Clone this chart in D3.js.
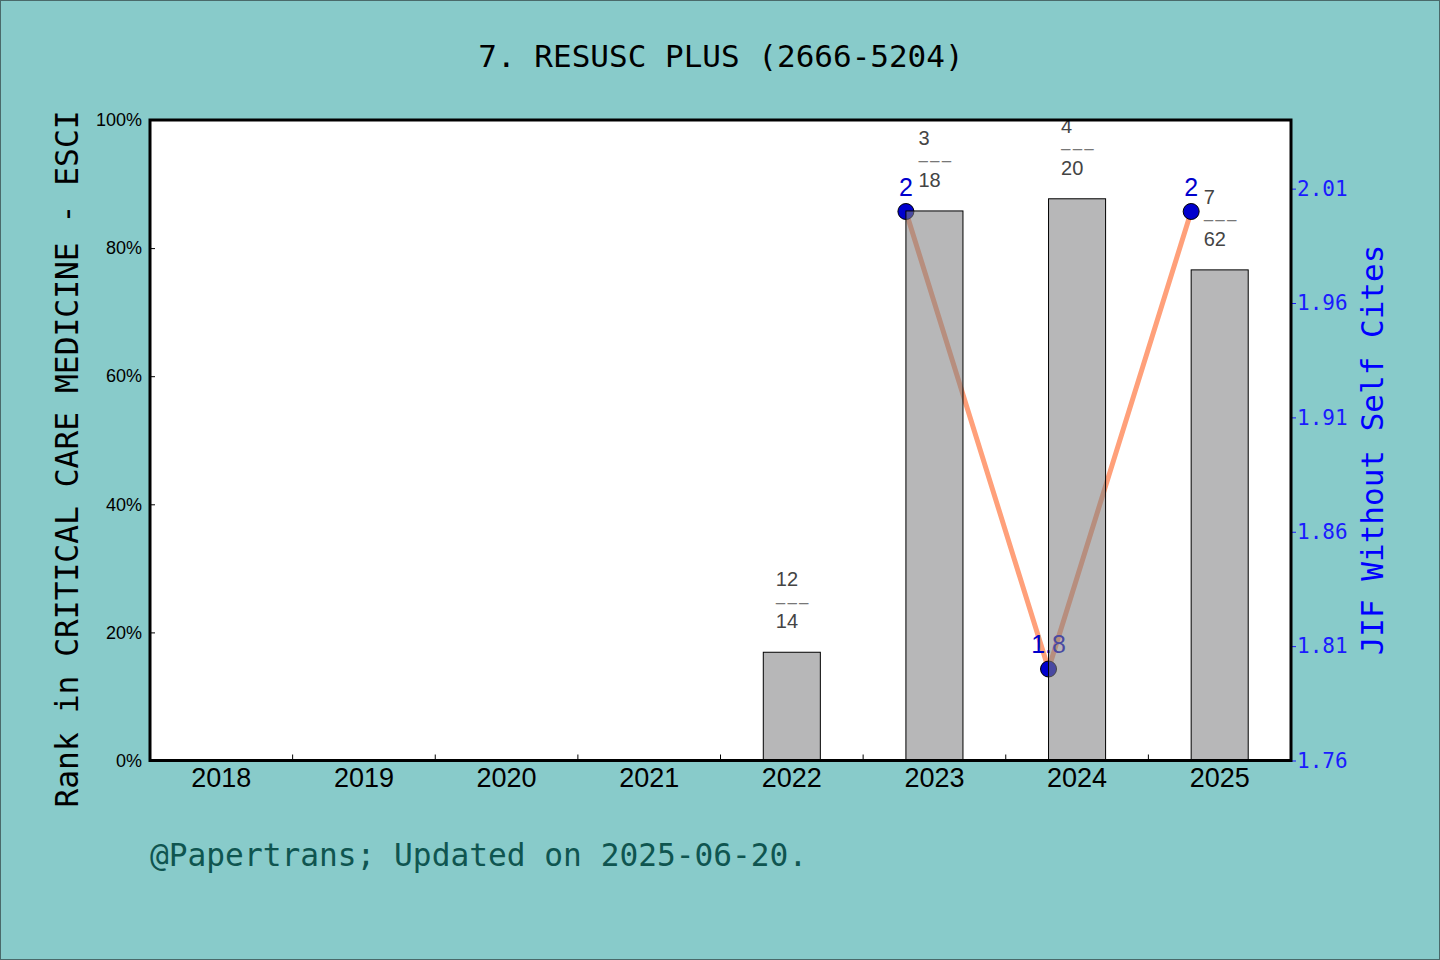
<!DOCTYPE html>
<html>
<head>
<meta charset="utf-8">
<script src="https://cdn.jsdelivr.net/npm/d3@7"></script>
<style>
  body { margin: 0; background: #88cbca; }
  svg { display: block; }
</style>
</head>
<body>
<div id="chart"></div>
<script>
// rank / JIF chart for one journal

const years = ["2018", "2019", "2020", "2021", "2022", "2023", "2024", "2025"];
const rankPct = [null, null, null, null, 16.9, 85.8, 87.7, 76.6];
const rankNum = [null, null, null, null, 12, 3, 4, 7];
const rankDen = [null, null, null, null, 14, 18, 20, 62];
const jifValues = [null, null, null, null, null, 2.0, 1.8, 2.0];
const jifLabels = [null, null, null, null, null, "2", "1.8", "2"];
const pctTicks = [0, 20, 40, 60, 80, 100];
const jifTicks = [1.76, 1.81, 1.86, 1.91, 1.96, 2.01];

const titleText = "7. RESUSC PLUS (2666-5204)";
const leftLabel = "Rank in CRITICAL CARE MEDICINE - ESCI";
const rightLabel = "JIF Without Self Cites";
const footerText = "@Papertrans; Updated on 2025-06-20.";

const W = 1440, H = 960;
const plot = { left: 150, right: 1291, top: 120, bottom: 760.5 };
const mono = "'DejaVu Sans Mono', monospace";
const sans = "'Liberation Sans', Arial, sans-serif";

let rows = years.map((y, i) => ({
    year: y,
    pct: rankPct[i],
    num: rankNum[i],
    den: rankDen[i],
    jif: jifValues[i],
    jifLabel: jifLabels[i]
}));

let svg = d3.select("#chart")
    .append("svg")
    .attr("width", W)
    .attr("height", H);

svg.append("rect")
    .attr("x", 0.5).attr("y", 0.5)
    .attr("width", W - 1).attr("height", H - 1)
    .attr("fill", "#88cbca")
    .attr("stroke", "#4a6a6a")
    .attr("stroke-width", 1);

svg.append("rect")
    .attr("x", plot.left).attr("y", plot.top)
    .attr("width", plot.right - plot.left)
    .attr("height", plot.bottom - plot.top)
    .attr("fill", "white");

let x = d3.scaleBand()
    .domain(years)
    .range([plot.left, plot.right])
    .padding(0);

let y = d3.scaleLinear()
    .domain([0, 100])
    .range([plot.bottom, plot.top]);

let y2 = d3.scaleLinear()
    .domain([1.76, 2.04])
    .range([plot.bottom, plot.top]);

let bw = x.bandwidth();

// left axis, ticks pointing in
let leftAxis = svg.append("g")
    .attr("transform", "translate(" + plot.left + ",0)")
    .call(d3.axisRight(y).tickValues(pctTicks).tickSize(5).tickFormat(d => d + "%"));
leftAxis.select(".domain").remove();
leftAxis.selectAll("line").attr("stroke", "black");
leftAxis.selectAll("text")
    .attr("x", -8)
    .attr("text-anchor", "end")
    .attr("font-family", sans)
    .attr("font-size", 18)
    .attr("fill", "black");

// right axis
let rightAxis = svg.append("g")
    .attr("transform", "translate(" + plot.right + ",0)")
    .call(d3.axisRight(y2).tickValues(jifTicks).tickSize(5).tickFormat(d3.format(".2f")));
rightAxis.select(".domain").remove();
rightAxis.selectAll("line").attr("stroke", "#1a1aff");
rightAxis.selectAll("text")
    .attr("x", 6)
    .attr("font-family", mono)
    .attr("font-size", 21)
    .attr("fill", "#1a1aff");

// bottom axis: ticks on band edges, labels at band centres
let bottom = svg.append("g");
bottom.selectAll(".edge")
    .data(years.slice(1))
    .join("line")
    .attr("x1", d => x(d)).attr("x2", d => x(d))
    .attr("y1", plot.bottom).attr("y2", plot.bottom - 6)
    .attr("stroke", "black");
bottom.selectAll("text")
    .data(years)
    .join("text")
    .attr("x", d => x(d) + bw / 2)
    .attr("y", 787)
    .attr("text-anchor", "middle")
    .attr("font-family", sans)
    .attr("font-size", 27)
    .attr("fill", "black")
    .text(d => d);

// JIF line + points (sits at the left edge of each bar)
let jifRows = rows.filter(d => d.jif != null);
let px = d => x(d.year) + bw * 0.3;

let line = d3.line()
    .x(px)
    .y(d => y2(d.jif));

svg.append("path")
    .datum(jifRows)
    .attr("d", line)
    .attr("fill", "none")
    .attr("stroke", "#ffa07a")
    .attr("stroke-width", 5);

svg.selectAll(".dot")
    .data(jifRows)
    .join("circle")
    .attr("class", "dot")
    .attr("cx", px)
    .attr("cy", d => y2(d.jif))
    .attr("r", 8)
    .attr("fill", "#0000cd")
    .attr("stroke", "black")
    .attr("stroke-width", 1);

svg.selectAll(".jifLabel")
    .data(jifRows)
    .join("text")
    .attr("class", "jifLabel")
    .attr("x", px)
    .attr("y", d => y2(d.jif) - 16)
    .attr("text-anchor", "middle")
    .attr("font-family", sans)
    .attr("font-size", 25)
    .attr("fill", "#0000cd")
    .text(d => d.jifLabel);

// bars drawn over the line, half transparent
let barRows = rows.filter(d => d.pct != null);

svg.selectAll(".bar")
    .data(barRows)
    .join("rect")
    .attr("class", "bar")
    .attr("x", d => x(d.year) + bw * 0.3)
    .attr("y", d => y(d.pct))
    .attr("width", bw * 0.4)
    .attr("height", d => y(0) - y(d.pct))
    .attr("fill", "rgba(128,129,130,0.57)")
    .attr("stroke", "black")
    .attr("stroke-width", 1);

// rank fraction labels
let frac = svg.selectAll(".frac")
    .data(barRows)
    .join("g")
    .attr("class", "frac")
    .attr("transform", d => "translate(" + (x(d.year) + bw / 2 - 16) + "," + y(d.pct) + ")");

frac.append("text")
    .attr("y", -73)
    .attr("dominant-baseline", "central")
    .attr("font-family", sans)
    .attr("font-size", 20)
    .attr("fill", "#444")
    .text(d => d.num);

frac.append("text")
    .attr("y", -50)
    .attr("dominant-baseline", "central")
    .attr("font-family", sans)
    .attr("font-size", 17)
    .attr("letter-spacing", 2.2)
    .attr("fill", "#777")
    .text("\u2013\u2013\u2013");

frac.append("text")
    .attr("y", -31)
    .attr("dominant-baseline", "central")
    .attr("font-family", sans)
    .attr("font-size", 20)
    .attr("fill", "#444")
    .text(d => d.den);

// frame on top
svg.append("rect")
    .attr("x", plot.left).attr("y", plot.top)
    .attr("width", plot.right - plot.left)
    .attr("height", plot.bottom - plot.top)
    .attr("fill", "none")
    .attr("stroke", "black")
    .attr("stroke-width", 3);

// texts
svg.append("text")
    .attr("x", 721)
    .attr("y", 67)
    .attr("text-anchor", "middle")
    .attr("font-family", mono)
    .attr("font-size", 31)
    .attr("fill", "black")
    .text(titleText);

svg.append("text")
    .attr("transform", "translate(78,459) rotate(-90)")
    .attr("text-anchor", "middle")
    .attr("font-family", mono)
    .attr("font-size", 31.3)
    .attr("fill", "black")
    .text(leftLabel);

svg.append("text")
    .attr("transform", "translate(1383,450) rotate(-90)")
    .attr("text-anchor", "middle")
    .attr("font-family", mono)
    .attr("font-size", 31)
    .attr("fill", "#0000ff")
    .text(rightLabel);

svg.append("text")
    .attr("x", 150)
    .attr("y", 866)
    .attr("font-family", mono)
    .attr("font-size", 31.2)
    .attr("fill", "#0f5550")
    .text(footerText);
</script>
</body>
</html>
